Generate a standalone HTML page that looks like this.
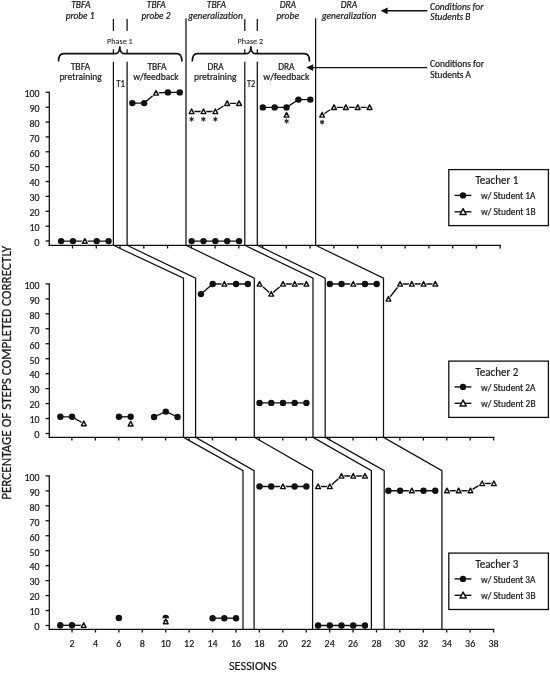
<!DOCTYPE html>
<html><head><meta charset="utf-8"><title>Multiple baseline graph</title>
<style>
html,body{margin:0;padding:0;background:#fff;}
body{width:550px;height:673px;overflow:hidden;}
svg{display:block;font-family:Carlito, 'Liberation Sans', sans-serif;}
text{stroke:#1a1a1a;}
</style></head>
<body>
<svg width="550" height="673" viewBox="0 0 550 673" stroke-width="0.22">
<rect x="0" y="0" width="550" height="673" fill="#fff"/>
<text x="80.8" y="7.9" font-size="9.6" text-anchor="middle" font-style="italic" textLength="19.3" lengthAdjust="spacingAndGlyphs" fill="#1a1a1a">TBFA</text>
<text x="80.0" y="18.9" font-size="9.6" text-anchor="middle" font-style="italic" textLength="28.7" lengthAdjust="spacingAndGlyphs" fill="#1a1a1a">probe 1</text>
<text x="156.3" y="7.9" font-size="9.6" text-anchor="middle" font-style="italic" textLength="18.9" lengthAdjust="spacingAndGlyphs" fill="#1a1a1a">TBFA</text>
<text x="155.9" y="18.9" font-size="9.6" text-anchor="middle" font-style="italic" textLength="29.0" lengthAdjust="spacingAndGlyphs" fill="#1a1a1a">probe 2</text>
<text x="216.4" y="8.0" font-size="9.6" text-anchor="middle" font-style="italic" textLength="19.3" lengthAdjust="spacingAndGlyphs" fill="#1a1a1a">TBFA</text>
<text x="215.5" y="18.8" font-size="9.6" text-anchor="middle" font-style="italic" textLength="54.5" lengthAdjust="spacingAndGlyphs" fill="#1a1a1a">generalization</text>
<text x="287.9" y="8.4" font-size="9.6" text-anchor="middle" font-style="italic" textLength="16.4" lengthAdjust="spacingAndGlyphs" fill="#1a1a1a">DRA</text>
<text x="287.7" y="18.8" font-size="9.6" text-anchor="middle" font-style="italic" textLength="22.6" lengthAdjust="spacingAndGlyphs" fill="#1a1a1a">probe</text>
<text x="349.0" y="8.4" font-size="9.6" text-anchor="middle" font-style="italic" textLength="16.4" lengthAdjust="spacingAndGlyphs" fill="#1a1a1a">DRA</text>
<text x="349.0" y="18.8" font-size="9.6" text-anchor="middle" font-style="italic" textLength="54.5" lengthAdjust="spacingAndGlyphs" fill="#1a1a1a">generalization</text>
<text x="430" y="10.1" font-size="9.6" text-anchor="start" font-style="italic" textLength="53.5" lengthAdjust="spacingAndGlyphs" fill="#1a1a1a">Conditions for</text>
<text x="430.2" y="20.3" font-size="9.6" text-anchor="start" font-style="italic" textLength="40.2" lengthAdjust="spacingAndGlyphs" fill="#1a1a1a">Students B</text>
<text x="430" y="66.5" font-size="9.6" text-anchor="start" textLength="54" lengthAdjust="spacingAndGlyphs" fill="#1a1a1a">Conditions for</text>
<text x="430.2" y="77.6" font-size="9.6" text-anchor="start" textLength="40.8" lengthAdjust="spacingAndGlyphs" fill="#1a1a1a">Students A</text>
<text x="119.9" y="43.6" font-size="9.0" text-anchor="middle" textLength="25.6" lengthAdjust="spacingAndGlyphs" stroke-width="0.05" fill="#1a1a1a">Phase 1</text>
<text x="250.3" y="43.6" font-size="9.0" text-anchor="middle" textLength="25.6" lengthAdjust="spacingAndGlyphs" stroke-width="0.05" fill="#1a1a1a">Phase 2</text>
<text x="80.4" y="70.2" font-size="10" text-anchor="middle" textLength="19.5" lengthAdjust="spacingAndGlyphs" fill="#1a1a1a">TBFA</text>
<text x="80.6" y="80.4" font-size="10" text-anchor="middle" textLength="42.4" lengthAdjust="spacingAndGlyphs" fill="#1a1a1a">pretraining</text>
<text x="120.6" y="86.5" font-size="9.9" text-anchor="middle" textLength="8.6" lengthAdjust="spacingAndGlyphs" fill="#1a1a1a">T1</text>
<text x="157.0" y="70.2" font-size="10" text-anchor="middle" textLength="19.2" lengthAdjust="spacingAndGlyphs" fill="#1a1a1a">TBFA</text>
<text x="155.9" y="80.4" font-size="10" text-anchor="middle" textLength="45.2" lengthAdjust="spacingAndGlyphs" fill="#1a1a1a">w/feedback</text>
<text x="215.6" y="70.2" font-size="10" text-anchor="middle" textLength="16.3" lengthAdjust="spacingAndGlyphs" fill="#1a1a1a">DRA</text>
<text x="215.2" y="80.4" font-size="10" text-anchor="middle" textLength="42.5" lengthAdjust="spacingAndGlyphs" fill="#1a1a1a">pretraining</text>
<text x="251.1" y="86.5" font-size="9.9" text-anchor="middle" textLength="8.4" lengthAdjust="spacingAndGlyphs" fill="#1a1a1a">T2</text>
<text x="286.3" y="70.2" font-size="10" text-anchor="middle" textLength="16.3" lengthAdjust="spacingAndGlyphs" fill="#1a1a1a">DRA</text>
<text x="286.3" y="80.4" font-size="10" text-anchor="middle" textLength="46.0" lengthAdjust="spacingAndGlyphs" fill="#1a1a1a">w/feedback</text>
<line x1="387.00" y1="10.80" x2="427.30" y2="10.80" stroke="#111" stroke-width="1.4"/>
<path d="M380.6,10.8 L387.6,7.4 L387.6,14.2 Z" fill="#111"/>
<line x1="313.00" y1="67.60" x2="427.30" y2="67.60" stroke="#111" stroke-width="1.4"/>
<path d="M306.2,67.6 L313.2,64.2 L313.2,71.0 Z" fill="#111"/>
<path d="M58.5,61.5 C58.5,56.1 60.0,53.6 63.5,53.6 L115.3,53.6 C117.8,53.6 119.8,51.6 119.8,46.2 C119.8,51.6 121.8,53.6 124.3,53.6 L176.9,53.6 C180.4,53.6 181.9,56.1 181.9,61.5" fill="none" stroke="#111" stroke-width="1.6"/>
<path d="M192.3,61.5 C192.3,56.1 193.8,53.6 197.3,53.6 L246.4,53.6 C248.9,53.6 250.9,51.6 250.9,46.2 C250.9,51.6 252.9,53.6 255.4,53.6 L304.5,53.6 C308.0,53.6 309.5,56.1 309.5,61.5" fill="none" stroke="#111" stroke-width="1.6"/>
<line x1="113.40" y1="19.00" x2="113.40" y2="31.00" stroke="#111" stroke-width="1.25"/>
<line x1="113.40" y1="49.30" x2="113.40" y2="53.60" stroke="#111" stroke-width="1.25"/>
<line x1="113.40" y1="61.80" x2="113.40" y2="245.30" stroke="#111" stroke-width="1.25"/>
<polyline points="113.4,245.3 183.5,278.2 183.5,437.3 243.0,470.7 243.0,629.3" fill="none" stroke="#111" stroke-width="1.25" stroke-linejoin="miter"/>
<line x1="127.10" y1="19.00" x2="127.10" y2="31.00" stroke="#111" stroke-width="1.25"/>
<line x1="127.10" y1="49.30" x2="127.10" y2="53.60" stroke="#111" stroke-width="1.25"/>
<line x1="127.10" y1="61.80" x2="127.10" y2="245.30" stroke="#111" stroke-width="1.25"/>
<polyline points="127.1,245.3 195.6,278.2 195.6,437.3 254.1,470.7 254.1,629.3" fill="none" stroke="#111" stroke-width="1.25" stroke-linejoin="miter"/>
<line x1="186.00" y1="18.30" x2="186.00" y2="245.30" stroke="#111" stroke-width="1.25"/>
<polyline points="186.0,245.3 254.3,278.2 254.3,437.3 312.6,470.7 312.6,629.3" fill="none" stroke="#111" stroke-width="1.25" stroke-linejoin="miter"/>
<line x1="244.80" y1="19.00" x2="244.80" y2="31.00" stroke="#111" stroke-width="1.25"/>
<line x1="244.80" y1="49.30" x2="244.80" y2="53.60" stroke="#111" stroke-width="1.25"/>
<line x1="244.80" y1="61.80" x2="244.80" y2="245.30" stroke="#111" stroke-width="1.25"/>
<polyline points="244.8,245.3 313.0,278.2 313.0,437.3 371.4,470.7 371.4,629.3" fill="none" stroke="#111" stroke-width="1.25" stroke-linejoin="miter"/>
<line x1="257.30" y1="19.00" x2="257.30" y2="31.00" stroke="#111" stroke-width="1.25"/>
<line x1="257.30" y1="49.30" x2="257.30" y2="53.60" stroke="#111" stroke-width="1.25"/>
<line x1="257.30" y1="61.80" x2="257.30" y2="245.30" stroke="#111" stroke-width="1.25"/>
<polyline points="257.3,245.3 325.2,278.2 325.2,437.3 384.2,470.7 384.2,629.3" fill="none" stroke="#111" stroke-width="1.25" stroke-linejoin="miter"/>
<line x1="315.60" y1="18.30" x2="315.60" y2="245.30" stroke="#111" stroke-width="1.25"/>
<polyline points="315.6,245.3 383.5,278.2 383.5,437.3 441.9,470.7 441.9,629.3" fill="none" stroke="#111" stroke-width="1.25" stroke-linejoin="miter"/>
<line x1="49.30" y1="91.70" x2="49.30" y2="246.00" stroke="#111" stroke-width="1.3"/>
<line x1="45.60" y1="241.00" x2="49.30" y2="241.00" stroke="#111" stroke-width="1.3"/>
<text x="39.6" y="245.80" font-size="10.4" text-anchor="end" fill="#1a1a1a">0</text>
<line x1="45.60" y1="226.13" x2="49.30" y2="226.13" stroke="#111" stroke-width="1.3"/>
<text x="39.6" y="230.93" font-size="10.4" text-anchor="end" textLength="10.0" lengthAdjust="spacingAndGlyphs" fill="#1a1a1a">10</text>
<line x1="45.60" y1="211.26" x2="49.30" y2="211.26" stroke="#111" stroke-width="1.3"/>
<text x="39.6" y="216.06" font-size="10.4" text-anchor="end" textLength="10.0" lengthAdjust="spacingAndGlyphs" fill="#1a1a1a">20</text>
<line x1="45.60" y1="196.39" x2="49.30" y2="196.39" stroke="#111" stroke-width="1.3"/>
<text x="39.6" y="201.19" font-size="10.4" text-anchor="end" textLength="10.0" lengthAdjust="spacingAndGlyphs" fill="#1a1a1a">30</text>
<line x1="45.60" y1="181.52" x2="49.30" y2="181.52" stroke="#111" stroke-width="1.3"/>
<text x="39.6" y="186.32" font-size="10.4" text-anchor="end" textLength="10.0" lengthAdjust="spacingAndGlyphs" fill="#1a1a1a">40</text>
<line x1="45.60" y1="166.65" x2="49.30" y2="166.65" stroke="#111" stroke-width="1.3"/>
<text x="39.6" y="171.45" font-size="10.4" text-anchor="end" textLength="10.0" lengthAdjust="spacingAndGlyphs" fill="#1a1a1a">50</text>
<line x1="45.60" y1="151.78" x2="49.30" y2="151.78" stroke="#111" stroke-width="1.3"/>
<text x="39.6" y="156.58" font-size="10.4" text-anchor="end" textLength="10.0" lengthAdjust="spacingAndGlyphs" fill="#1a1a1a">60</text>
<line x1="45.60" y1="136.91" x2="49.30" y2="136.91" stroke="#111" stroke-width="1.3"/>
<text x="39.6" y="141.71" font-size="10.4" text-anchor="end" textLength="10.0" lengthAdjust="spacingAndGlyphs" fill="#1a1a1a">70</text>
<line x1="45.60" y1="122.04" x2="49.30" y2="122.04" stroke="#111" stroke-width="1.3"/>
<text x="39.6" y="126.84" font-size="10.4" text-anchor="end" textLength="10.0" lengthAdjust="spacingAndGlyphs" fill="#1a1a1a">80</text>
<line x1="45.60" y1="107.17" x2="49.30" y2="107.17" stroke="#111" stroke-width="1.3"/>
<text x="39.6" y="111.97" font-size="10.4" text-anchor="end" textLength="10.0" lengthAdjust="spacingAndGlyphs" fill="#1a1a1a">90</text>
<line x1="45.60" y1="92.30" x2="49.30" y2="92.30" stroke="#111" stroke-width="1.3"/>
<text x="39.6" y="97.10" font-size="10.4" text-anchor="end" textLength="15.0" lengthAdjust="spacingAndGlyphs" fill="#1a1a1a">100</text>
<line x1="49.30" y1="283.30" x2="49.30" y2="438.00" stroke="#111" stroke-width="1.3"/>
<line x1="45.60" y1="433.50" x2="49.30" y2="433.50" stroke="#111" stroke-width="1.3"/>
<text x="39.6" y="438.30" font-size="10.4" text-anchor="end" fill="#1a1a1a">0</text>
<line x1="45.60" y1="418.54" x2="49.30" y2="418.54" stroke="#111" stroke-width="1.3"/>
<text x="39.6" y="423.34" font-size="10.4" text-anchor="end" textLength="10.0" lengthAdjust="spacingAndGlyphs" fill="#1a1a1a">10</text>
<line x1="45.60" y1="403.58" x2="49.30" y2="403.58" stroke="#111" stroke-width="1.3"/>
<text x="39.6" y="408.38" font-size="10.4" text-anchor="end" textLength="10.0" lengthAdjust="spacingAndGlyphs" fill="#1a1a1a">20</text>
<line x1="45.60" y1="388.62" x2="49.30" y2="388.62" stroke="#111" stroke-width="1.3"/>
<text x="39.6" y="393.42" font-size="10.4" text-anchor="end" textLength="10.0" lengthAdjust="spacingAndGlyphs" fill="#1a1a1a">30</text>
<line x1="45.60" y1="373.66" x2="49.30" y2="373.66" stroke="#111" stroke-width="1.3"/>
<text x="39.6" y="378.46" font-size="10.4" text-anchor="end" textLength="10.0" lengthAdjust="spacingAndGlyphs" fill="#1a1a1a">40</text>
<line x1="45.60" y1="358.70" x2="49.30" y2="358.70" stroke="#111" stroke-width="1.3"/>
<text x="39.6" y="363.50" font-size="10.4" text-anchor="end" textLength="10.0" lengthAdjust="spacingAndGlyphs" fill="#1a1a1a">50</text>
<line x1="45.60" y1="343.74" x2="49.30" y2="343.74" stroke="#111" stroke-width="1.3"/>
<text x="39.6" y="348.54" font-size="10.4" text-anchor="end" textLength="10.0" lengthAdjust="spacingAndGlyphs" fill="#1a1a1a">60</text>
<line x1="45.60" y1="328.78" x2="49.30" y2="328.78" stroke="#111" stroke-width="1.3"/>
<text x="39.6" y="333.58" font-size="10.4" text-anchor="end" textLength="10.0" lengthAdjust="spacingAndGlyphs" fill="#1a1a1a">70</text>
<line x1="45.60" y1="313.82" x2="49.30" y2="313.82" stroke="#111" stroke-width="1.3"/>
<text x="39.6" y="318.62" font-size="10.4" text-anchor="end" textLength="10.0" lengthAdjust="spacingAndGlyphs" fill="#1a1a1a">80</text>
<line x1="45.60" y1="298.86" x2="49.30" y2="298.86" stroke="#111" stroke-width="1.3"/>
<text x="39.6" y="303.66" font-size="10.4" text-anchor="end" textLength="10.0" lengthAdjust="spacingAndGlyphs" fill="#1a1a1a">90</text>
<line x1="45.60" y1="283.90" x2="49.30" y2="283.90" stroke="#111" stroke-width="1.3"/>
<text x="39.6" y="288.70" font-size="10.4" text-anchor="end" textLength="15.0" lengthAdjust="spacingAndGlyphs" fill="#1a1a1a">100</text>
<line x1="49.30" y1="475.30" x2="49.30" y2="630.00" stroke="#111" stroke-width="1.3"/>
<line x1="45.60" y1="625.50" x2="49.30" y2="625.50" stroke="#111" stroke-width="1.3"/>
<text x="39.6" y="630.30" font-size="10.4" text-anchor="end" fill="#1a1a1a">0</text>
<line x1="45.60" y1="610.54" x2="49.30" y2="610.54" stroke="#111" stroke-width="1.3"/>
<text x="39.6" y="615.34" font-size="10.4" text-anchor="end" textLength="10.0" lengthAdjust="spacingAndGlyphs" fill="#1a1a1a">10</text>
<line x1="45.60" y1="595.58" x2="49.30" y2="595.58" stroke="#111" stroke-width="1.3"/>
<text x="39.6" y="600.38" font-size="10.4" text-anchor="end" textLength="10.0" lengthAdjust="spacingAndGlyphs" fill="#1a1a1a">20</text>
<line x1="45.60" y1="580.62" x2="49.30" y2="580.62" stroke="#111" stroke-width="1.3"/>
<text x="39.6" y="585.42" font-size="10.4" text-anchor="end" textLength="10.0" lengthAdjust="spacingAndGlyphs" fill="#1a1a1a">30</text>
<line x1="45.60" y1="565.66" x2="49.30" y2="565.66" stroke="#111" stroke-width="1.3"/>
<text x="39.6" y="570.46" font-size="10.4" text-anchor="end" textLength="10.0" lengthAdjust="spacingAndGlyphs" fill="#1a1a1a">40</text>
<line x1="45.60" y1="550.70" x2="49.30" y2="550.70" stroke="#111" stroke-width="1.3"/>
<text x="39.6" y="555.50" font-size="10.4" text-anchor="end" textLength="10.0" lengthAdjust="spacingAndGlyphs" fill="#1a1a1a">50</text>
<line x1="45.60" y1="535.74" x2="49.30" y2="535.74" stroke="#111" stroke-width="1.3"/>
<text x="39.6" y="540.54" font-size="10.4" text-anchor="end" textLength="10.0" lengthAdjust="spacingAndGlyphs" fill="#1a1a1a">60</text>
<line x1="45.60" y1="520.78" x2="49.30" y2="520.78" stroke="#111" stroke-width="1.3"/>
<text x="39.6" y="525.58" font-size="10.4" text-anchor="end" textLength="10.0" lengthAdjust="spacingAndGlyphs" fill="#1a1a1a">70</text>
<line x1="45.60" y1="505.82" x2="49.30" y2="505.82" stroke="#111" stroke-width="1.3"/>
<text x="39.6" y="510.62" font-size="10.4" text-anchor="end" textLength="10.0" lengthAdjust="spacingAndGlyphs" fill="#1a1a1a">80</text>
<line x1="45.60" y1="490.86" x2="49.30" y2="490.86" stroke="#111" stroke-width="1.3"/>
<text x="39.6" y="495.66" font-size="10.4" text-anchor="end" textLength="10.0" lengthAdjust="spacingAndGlyphs" fill="#1a1a1a">90</text>
<line x1="45.60" y1="475.90" x2="49.30" y2="475.90" stroke="#111" stroke-width="1.3"/>
<text x="39.6" y="480.70" font-size="10.4" text-anchor="end" textLength="15.0" lengthAdjust="spacingAndGlyphs" fill="#1a1a1a">100</text>
<line x1="48.65" y1="245.30" x2="500.80" y2="245.30" stroke="#111" stroke-width="1.3"/>
<line x1="72.52" y1="245.30" x2="72.52" y2="248.50" stroke="#111" stroke-width="1.3"/>
<line x1="96.28" y1="245.30" x2="96.28" y2="248.50" stroke="#111" stroke-width="1.3"/>
<line x1="120.04" y1="245.30" x2="120.04" y2="248.50" stroke="#111" stroke-width="1.3"/>
<line x1="143.80" y1="245.30" x2="143.80" y2="248.50" stroke="#111" stroke-width="1.3"/>
<line x1="167.56" y1="245.30" x2="167.56" y2="248.50" stroke="#111" stroke-width="1.3"/>
<line x1="191.32" y1="245.30" x2="191.32" y2="248.50" stroke="#111" stroke-width="1.3"/>
<line x1="215.08" y1="245.30" x2="215.08" y2="248.50" stroke="#111" stroke-width="1.3"/>
<line x1="238.84" y1="245.30" x2="238.84" y2="248.50" stroke="#111" stroke-width="1.3"/>
<line x1="262.60" y1="245.30" x2="262.60" y2="248.50" stroke="#111" stroke-width="1.3"/>
<line x1="286.36" y1="245.30" x2="286.36" y2="248.50" stroke="#111" stroke-width="1.3"/>
<line x1="310.12" y1="245.30" x2="310.12" y2="248.50" stroke="#111" stroke-width="1.3"/>
<line x1="333.88" y1="245.30" x2="333.88" y2="248.50" stroke="#111" stroke-width="1.3"/>
<line x1="357.64" y1="245.30" x2="357.64" y2="248.50" stroke="#111" stroke-width="1.3"/>
<line x1="381.40" y1="245.30" x2="381.40" y2="248.50" stroke="#111" stroke-width="1.3"/>
<line x1="405.16" y1="245.30" x2="405.16" y2="248.50" stroke="#111" stroke-width="1.3"/>
<line x1="428.92" y1="245.30" x2="428.92" y2="248.50" stroke="#111" stroke-width="1.3"/>
<line x1="452.68" y1="245.30" x2="452.68" y2="248.50" stroke="#111" stroke-width="1.3"/>
<line x1="476.44" y1="245.30" x2="476.44" y2="248.50" stroke="#111" stroke-width="1.3"/>
<line x1="500.20" y1="245.30" x2="500.20" y2="248.50" stroke="#111" stroke-width="1.3"/>
<line x1="48.65" y1="437.30" x2="494.25" y2="437.30" stroke="#111" stroke-width="1.3"/>
<line x1="71.87" y1="437.30" x2="71.87" y2="440.50" stroke="#111" stroke-width="1.3"/>
<line x1="95.30" y1="437.30" x2="95.30" y2="440.50" stroke="#111" stroke-width="1.3"/>
<line x1="118.74" y1="437.30" x2="118.74" y2="440.50" stroke="#111" stroke-width="1.3"/>
<line x1="142.17" y1="437.30" x2="142.17" y2="440.50" stroke="#111" stroke-width="1.3"/>
<line x1="165.60" y1="437.30" x2="165.60" y2="440.50" stroke="#111" stroke-width="1.3"/>
<line x1="189.03" y1="437.30" x2="189.03" y2="440.50" stroke="#111" stroke-width="1.3"/>
<line x1="212.46" y1="437.30" x2="212.46" y2="440.50" stroke="#111" stroke-width="1.3"/>
<line x1="235.90" y1="437.30" x2="235.90" y2="440.50" stroke="#111" stroke-width="1.3"/>
<line x1="259.33" y1="437.30" x2="259.33" y2="440.50" stroke="#111" stroke-width="1.3"/>
<line x1="282.76" y1="437.30" x2="282.76" y2="440.50" stroke="#111" stroke-width="1.3"/>
<line x1="306.19" y1="437.30" x2="306.19" y2="440.50" stroke="#111" stroke-width="1.3"/>
<line x1="329.62" y1="437.30" x2="329.62" y2="440.50" stroke="#111" stroke-width="1.3"/>
<line x1="353.06" y1="437.30" x2="353.06" y2="440.50" stroke="#111" stroke-width="1.3"/>
<line x1="376.49" y1="437.30" x2="376.49" y2="440.50" stroke="#111" stroke-width="1.3"/>
<line x1="399.92" y1="437.30" x2="399.92" y2="440.50" stroke="#111" stroke-width="1.3"/>
<line x1="423.35" y1="437.30" x2="423.35" y2="440.50" stroke="#111" stroke-width="1.3"/>
<line x1="446.78" y1="437.30" x2="446.78" y2="440.50" stroke="#111" stroke-width="1.3"/>
<line x1="470.22" y1="437.30" x2="470.22" y2="440.50" stroke="#111" stroke-width="1.3"/>
<line x1="493.65" y1="437.30" x2="493.65" y2="440.50" stroke="#111" stroke-width="1.3"/>
<line x1="48.65" y1="629.30" x2="494.16" y2="629.30" stroke="#111" stroke-width="1.3"/>
<line x1="72.04" y1="629.30" x2="72.04" y2="632.50" stroke="#111" stroke-width="1.3"/>
<text x="72.04" y="646.6" font-size="10" text-anchor="middle" textLength="5.1" lengthAdjust="spacingAndGlyphs" fill="#1a1a1a">2</text>
<line x1="95.46" y1="629.30" x2="95.46" y2="632.50" stroke="#111" stroke-width="1.3"/>
<text x="95.46" y="646.6" font-size="10" text-anchor="middle" textLength="5.1" lengthAdjust="spacingAndGlyphs" fill="#1a1a1a">4</text>
<line x1="118.87" y1="629.30" x2="118.87" y2="632.50" stroke="#111" stroke-width="1.3"/>
<text x="118.87" y="646.6" font-size="10" text-anchor="middle" textLength="5.1" lengthAdjust="spacingAndGlyphs" fill="#1a1a1a">6</text>
<line x1="142.29" y1="629.30" x2="142.29" y2="632.50" stroke="#111" stroke-width="1.3"/>
<text x="142.29" y="646.6" font-size="10" text-anchor="middle" textLength="5.1" lengthAdjust="spacingAndGlyphs" fill="#1a1a1a">8</text>
<line x1="165.71" y1="629.30" x2="165.71" y2="632.50" stroke="#111" stroke-width="1.3"/>
<text x="165.71" y="646.6" font-size="10" text-anchor="middle" textLength="10.1" lengthAdjust="spacingAndGlyphs" fill="#1a1a1a">10</text>
<line x1="189.13" y1="629.30" x2="189.13" y2="632.50" stroke="#111" stroke-width="1.3"/>
<text x="189.13" y="646.6" font-size="10" text-anchor="middle" textLength="10.1" lengthAdjust="spacingAndGlyphs" fill="#1a1a1a">12</text>
<line x1="212.55" y1="629.30" x2="212.55" y2="632.50" stroke="#111" stroke-width="1.3"/>
<text x="212.55" y="646.6" font-size="10" text-anchor="middle" textLength="10.1" lengthAdjust="spacingAndGlyphs" fill="#1a1a1a">14</text>
<line x1="235.96" y1="629.30" x2="235.96" y2="632.50" stroke="#111" stroke-width="1.3"/>
<text x="235.96" y="646.6" font-size="10" text-anchor="middle" textLength="10.1" lengthAdjust="spacingAndGlyphs" fill="#1a1a1a">16</text>
<line x1="259.38" y1="629.30" x2="259.38" y2="632.50" stroke="#111" stroke-width="1.3"/>
<text x="259.38" y="646.6" font-size="10" text-anchor="middle" textLength="10.1" lengthAdjust="spacingAndGlyphs" fill="#1a1a1a">18</text>
<line x1="282.80" y1="629.30" x2="282.80" y2="632.50" stroke="#111" stroke-width="1.3"/>
<text x="282.80" y="646.6" font-size="10" text-anchor="middle" textLength="10.1" lengthAdjust="spacingAndGlyphs" fill="#1a1a1a">20</text>
<line x1="306.22" y1="629.30" x2="306.22" y2="632.50" stroke="#111" stroke-width="1.3"/>
<text x="306.22" y="646.6" font-size="10" text-anchor="middle" textLength="10.1" lengthAdjust="spacingAndGlyphs" fill="#1a1a1a">22</text>
<line x1="329.64" y1="629.30" x2="329.64" y2="632.50" stroke="#111" stroke-width="1.3"/>
<text x="329.64" y="646.6" font-size="10" text-anchor="middle" textLength="10.1" lengthAdjust="spacingAndGlyphs" fill="#1a1a1a">24</text>
<line x1="353.05" y1="629.30" x2="353.05" y2="632.50" stroke="#111" stroke-width="1.3"/>
<text x="353.05" y="646.6" font-size="10" text-anchor="middle" textLength="10.1" lengthAdjust="spacingAndGlyphs" fill="#1a1a1a">26</text>
<line x1="376.47" y1="629.30" x2="376.47" y2="632.50" stroke="#111" stroke-width="1.3"/>
<text x="376.47" y="646.6" font-size="10" text-anchor="middle" textLength="10.1" lengthAdjust="spacingAndGlyphs" fill="#1a1a1a">28</text>
<line x1="399.89" y1="629.30" x2="399.89" y2="632.50" stroke="#111" stroke-width="1.3"/>
<text x="399.89" y="646.6" font-size="10" text-anchor="middle" textLength="10.1" lengthAdjust="spacingAndGlyphs" fill="#1a1a1a">30</text>
<line x1="423.31" y1="629.30" x2="423.31" y2="632.50" stroke="#111" stroke-width="1.3"/>
<text x="423.31" y="646.6" font-size="10" text-anchor="middle" textLength="10.1" lengthAdjust="spacingAndGlyphs" fill="#1a1a1a">32</text>
<line x1="446.73" y1="629.30" x2="446.73" y2="632.50" stroke="#111" stroke-width="1.3"/>
<text x="446.73" y="646.6" font-size="10" text-anchor="middle" textLength="10.1" lengthAdjust="spacingAndGlyphs" fill="#1a1a1a">34</text>
<line x1="470.14" y1="629.30" x2="470.14" y2="632.50" stroke="#111" stroke-width="1.3"/>
<text x="470.14" y="646.6" font-size="10" text-anchor="middle" textLength="10.1" lengthAdjust="spacingAndGlyphs" fill="#1a1a1a">36</text>
<line x1="493.56" y1="629.30" x2="493.56" y2="632.50" stroke="#111" stroke-width="1.3"/>
<text x="493.56" y="646.6" font-size="10" text-anchor="middle" textLength="10.1" lengthAdjust="spacingAndGlyphs" fill="#1a1a1a">38</text>
<text x="0" y="0" font-size="13.6" text-anchor="middle" fill="#1a1a1a" transform="translate(11.2,372.8) rotate(-90)" textLength="254" lengthAdjust="spacingAndGlyphs">PERCENTAGE OF STEPS COMPLETED CORRECTLY</text>
<text x="252.8" y="669.6" font-size="12.2" text-anchor="middle" textLength="47.7" lengthAdjust="spacingAndGlyphs" fill="#1a1a1a">SESSIONS</text>
<polyline points="61.11,241.10 108.56,241.10" fill="none" stroke="#111" stroke-width="1.35"/>
<circle cx="61.11" cy="241.10" r="3.2" fill="#111"/>
<circle cx="72.97" cy="241.10" r="3.2" fill="#111"/>
<circle cx="96.70" cy="241.10" r="3.2" fill="#111"/>
<circle cx="108.56" cy="241.10" r="3.2" fill="#111"/>
<path d="M84.84,238.60 L87.24,243.20 L82.44,243.20 Z" fill="#fff" stroke="#fff" stroke-width="2.9" stroke-linejoin="round"/>
<path d="M84.84,238.60 L87.24,243.20 L82.44,243.20 Z" fill="#fff" stroke="#111" stroke-width="1.45" stroke-linejoin="round"/>
<polyline points="132.30,103.10 144.16,103.10 156.03,93.00 167.89,92.40 179.76,92.40" fill="none" stroke="#111" stroke-width="1.35"/>
<circle cx="132.30" cy="103.10" r="3.2" fill="#111"/>
<circle cx="144.16" cy="103.10" r="3.2" fill="#111"/>
<circle cx="167.89" cy="92.40" r="3.2" fill="#111"/>
<circle cx="179.76" cy="92.40" r="3.2" fill="#111"/>
<path d="M156.03,90.50 L158.43,95.10 L153.62,95.10 Z" fill="#fff" stroke="#fff" stroke-width="2.9" stroke-linejoin="round"/>
<path d="M156.03,90.50 L158.43,95.10 L153.62,95.10 Z" fill="#fff" stroke="#111" stroke-width="1.45" stroke-linejoin="round"/>
<polyline points="191.62,241.10 203.49,241.10 215.35,241.10 227.22,241.10 239.08,241.10" fill="none" stroke="#111" stroke-width="1.35"/>
<circle cx="191.62" cy="241.10" r="3.2" fill="#111"/>
<circle cx="203.49" cy="241.10" r="3.2" fill="#111"/>
<circle cx="215.35" cy="241.10" r="3.2" fill="#111"/>
<circle cx="227.22" cy="241.10" r="3.2" fill="#111"/>
<circle cx="239.08" cy="241.10" r="3.2" fill="#111"/>
<polyline points="191.62,111.50 203.49,111.50 215.35,111.50 227.22,103.30 239.08,103.30" fill="none" stroke="#111" stroke-width="1.35"/>
<path d="M191.62,109.00 L194.02,113.60 L189.22,113.60 Z" fill="#fff" stroke="#fff" stroke-width="2.9" stroke-linejoin="round"/>
<path d="M191.62,109.00 L194.02,113.60 L189.22,113.60 Z" fill="#fff" stroke="#111" stroke-width="1.45" stroke-linejoin="round"/>
<path d="M203.49,109.00 L205.89,113.60 L201.09,113.60 Z" fill="#fff" stroke="#fff" stroke-width="2.9" stroke-linejoin="round"/>
<path d="M203.49,109.00 L205.89,113.60 L201.09,113.60 Z" fill="#fff" stroke="#111" stroke-width="1.45" stroke-linejoin="round"/>
<path d="M215.35,109.00 L217.75,113.60 L212.95,113.60 Z" fill="#fff" stroke="#fff" stroke-width="2.9" stroke-linejoin="round"/>
<path d="M215.35,109.00 L217.75,113.60 L212.95,113.60 Z" fill="#fff" stroke="#111" stroke-width="1.45" stroke-linejoin="round"/>
<path d="M227.22,100.80 L229.62,105.40 L224.81,105.40 Z" fill="#fff" stroke="#fff" stroke-width="2.9" stroke-linejoin="round"/>
<path d="M227.22,100.80 L229.62,105.40 L224.81,105.40 Z" fill="#fff" stroke="#111" stroke-width="1.45" stroke-linejoin="round"/>
<path d="M239.08,100.80 L241.48,105.40 L236.68,105.40 Z" fill="#fff" stroke="#fff" stroke-width="2.9" stroke-linejoin="round"/>
<path d="M239.08,100.80 L241.48,105.40 L236.68,105.40 Z" fill="#fff" stroke="#111" stroke-width="1.45" stroke-linejoin="round"/>
<text x="191.62" y="127.00" font-size="13.5" text-anchor="middle" fill="#111" stroke="#111" stroke-width="0.35">*</text>
<text x="203.49" y="127.00" font-size="13.5" text-anchor="middle" fill="#111" stroke="#111" stroke-width="0.35">*</text>
<text x="215.35" y="127.00" font-size="13.5" text-anchor="middle" fill="#111" stroke="#111" stroke-width="0.35">*</text>
<polyline points="262.81,107.40 274.68,107.40 286.54,107.40 298.40,99.60 310.27,99.60" fill="none" stroke="#111" stroke-width="1.35"/>
<circle cx="262.81" cy="107.40" r="3.2" fill="#111"/>
<circle cx="274.68" cy="107.40" r="3.2" fill="#111"/>
<circle cx="286.54" cy="107.40" r="3.2" fill="#111"/>
<circle cx="298.40" cy="99.60" r="3.2" fill="#111"/>
<circle cx="310.27" cy="99.60" r="3.2" fill="#111"/>
<path d="M286.54,112.50 L288.94,117.10 L284.14,117.10 Z" fill="#fff" stroke="#fff" stroke-width="2.9" stroke-linejoin="round"/>
<path d="M286.54,112.50 L288.94,117.10 L284.14,117.10 Z" fill="#fff" stroke="#111" stroke-width="1.45" stroke-linejoin="round"/>
<text x="286.54" y="129.40" font-size="13.5" text-anchor="middle" fill="#111" stroke="#111" stroke-width="0.35">*</text>
<polyline points="322.13,115.00 334.00,107.30 345.87,107.30 357.73,107.30 369.60,107.30" fill="none" stroke="#111" stroke-width="1.35"/>
<path d="M322.13,112.50 L324.53,117.10 L319.74,117.10 Z" fill="#fff" stroke="#fff" stroke-width="2.9" stroke-linejoin="round"/>
<path d="M322.13,112.50 L324.53,117.10 L319.74,117.10 Z" fill="#fff" stroke="#111" stroke-width="1.45" stroke-linejoin="round"/>
<path d="M334.00,104.80 L336.40,109.40 L331.60,109.40 Z" fill="#fff" stroke="#fff" stroke-width="2.9" stroke-linejoin="round"/>
<path d="M334.00,104.80 L336.40,109.40 L331.60,109.40 Z" fill="#fff" stroke="#111" stroke-width="1.45" stroke-linejoin="round"/>
<path d="M345.87,104.80 L348.26,109.40 L343.47,109.40 Z" fill="#fff" stroke="#fff" stroke-width="2.9" stroke-linejoin="round"/>
<path d="M345.87,104.80 L348.26,109.40 L343.47,109.40 Z" fill="#fff" stroke="#111" stroke-width="1.45" stroke-linejoin="round"/>
<path d="M357.73,104.80 L360.13,109.40 L355.33,109.40 Z" fill="#fff" stroke="#fff" stroke-width="2.9" stroke-linejoin="round"/>
<path d="M357.73,104.80 L360.13,109.40 L355.33,109.40 Z" fill="#fff" stroke="#111" stroke-width="1.45" stroke-linejoin="round"/>
<path d="M369.60,104.80 L372.00,109.40 L367.20,109.40 Z" fill="#fff" stroke="#fff" stroke-width="2.9" stroke-linejoin="round"/>
<path d="M369.60,104.80 L372.00,109.40 L367.20,109.40 Z" fill="#fff" stroke="#111" stroke-width="1.45" stroke-linejoin="round"/>
<text x="322.13" y="130.00" font-size="13.5" text-anchor="middle" fill="#111" stroke="#111" stroke-width="0.35">*</text>
<polyline points="60.37,416.80 72.08,416.80 83.80,423.60" fill="none" stroke="#111" stroke-width="1.35"/>
<circle cx="60.37" cy="416.80" r="3.2" fill="#111"/>
<circle cx="72.08" cy="416.80" r="3.2" fill="#111"/>
<path d="M83.80,421.10 L86.20,425.70 L81.40,425.70 Z" fill="#fff" stroke="#fff" stroke-width="2.9" stroke-linejoin="round"/>
<path d="M83.80,421.10 L86.20,425.70 L81.40,425.70 Z" fill="#fff" stroke="#111" stroke-width="1.45" stroke-linejoin="round"/>
<polyline points="118.95,416.80 130.66,416.80" fill="none" stroke="#111" stroke-width="1.35"/>
<circle cx="118.95" cy="416.80" r="3.2" fill="#111"/>
<circle cx="130.66" cy="416.80" r="3.2" fill="#111"/>
<path d="M130.66,421.30 L133.06,425.90 L128.26,425.90 Z" fill="#fff" stroke="#111" stroke-width="1.45" stroke-linejoin="round"/>
<polyline points="154.09,417.00 165.81,411.60 177.53,417.00" fill="none" stroke="#111" stroke-width="1.35"/>
<circle cx="154.09" cy="417.00" r="3.2" fill="#111"/>
<circle cx="165.81" cy="411.60" r="3.2" fill="#111"/>
<circle cx="177.53" cy="417.00" r="3.2" fill="#111"/>
<polyline points="200.96,294.10 212.67,284.00 224.39,284.00 236.11,284.00 247.82,284.00" fill="none" stroke="#111" stroke-width="1.35"/>
<circle cx="200.96" cy="294.10" r="3.2" fill="#111"/>
<circle cx="212.67" cy="284.00" r="3.2" fill="#111"/>
<circle cx="236.11" cy="284.00" r="3.2" fill="#111"/>
<circle cx="247.82" cy="284.00" r="3.2" fill="#111"/>
<path d="M224.39,281.50 L226.79,286.10 L221.99,286.10 Z" fill="#fff" stroke="#fff" stroke-width="2.9" stroke-linejoin="round"/>
<path d="M224.39,281.50 L226.79,286.10 L221.99,286.10 Z" fill="#fff" stroke="#111" stroke-width="1.45" stroke-linejoin="round"/>
<polyline points="259.54,402.90 271.25,402.90 282.97,402.90 294.69,402.90 306.40,402.90" fill="none" stroke="#111" stroke-width="1.35"/>
<circle cx="259.54" cy="402.90" r="3.2" fill="#111"/>
<circle cx="271.25" cy="402.90" r="3.2" fill="#111"/>
<circle cx="282.97" cy="402.90" r="3.2" fill="#111"/>
<circle cx="294.69" cy="402.90" r="3.2" fill="#111"/>
<circle cx="306.40" cy="402.90" r="3.2" fill="#111"/>
<polyline points="259.54,284.00 271.25,294.00 282.97,284.00 294.69,284.00 306.40,284.00" fill="none" stroke="#111" stroke-width="1.35"/>
<path d="M259.54,281.50 L261.94,286.10 L257.14,286.10 Z" fill="#fff" stroke="#fff" stroke-width="2.9" stroke-linejoin="round"/>
<path d="M259.54,281.50 L261.94,286.10 L257.14,286.10 Z" fill="#fff" stroke="#111" stroke-width="1.45" stroke-linejoin="round"/>
<path d="M271.25,291.50 L273.65,296.10 L268.85,296.10 Z" fill="#fff" stroke="#fff" stroke-width="2.9" stroke-linejoin="round"/>
<path d="M271.25,291.50 L273.65,296.10 L268.85,296.10 Z" fill="#fff" stroke="#111" stroke-width="1.45" stroke-linejoin="round"/>
<path d="M282.97,281.50 L285.37,286.10 L280.57,286.10 Z" fill="#fff" stroke="#fff" stroke-width="2.9" stroke-linejoin="round"/>
<path d="M282.97,281.50 L285.37,286.10 L280.57,286.10 Z" fill="#fff" stroke="#111" stroke-width="1.45" stroke-linejoin="round"/>
<path d="M294.69,281.50 L297.09,286.10 L292.29,286.10 Z" fill="#fff" stroke="#fff" stroke-width="2.9" stroke-linejoin="round"/>
<path d="M294.69,281.50 L297.09,286.10 L292.29,286.10 Z" fill="#fff" stroke="#111" stroke-width="1.45" stroke-linejoin="round"/>
<path d="M306.40,281.50 L308.80,286.10 L304.00,286.10 Z" fill="#fff" stroke="#fff" stroke-width="2.9" stroke-linejoin="round"/>
<path d="M306.40,281.50 L308.80,286.10 L304.00,286.10 Z" fill="#fff" stroke="#111" stroke-width="1.45" stroke-linejoin="round"/>
<polyline points="329.83,284.00 341.55,284.00 353.27,284.00 364.98,284.00 376.70,284.00" fill="none" stroke="#111" stroke-width="1.35"/>
<circle cx="329.83" cy="284.00" r="3.2" fill="#111"/>
<circle cx="341.55" cy="284.00" r="3.2" fill="#111"/>
<circle cx="364.98" cy="284.00" r="3.2" fill="#111"/>
<circle cx="376.70" cy="284.00" r="3.2" fill="#111"/>
<path d="M353.27,281.50 L355.67,286.10 L350.87,286.10 Z" fill="#fff" stroke="#fff" stroke-width="2.9" stroke-linejoin="round"/>
<path d="M353.27,281.50 L355.67,286.10 L350.87,286.10 Z" fill="#fff" stroke="#111" stroke-width="1.45" stroke-linejoin="round"/>
<polyline points="388.41,299.00 400.13,284.00 411.85,284.00 423.56,284.00 435.28,284.00" fill="none" stroke="#111" stroke-width="1.35"/>
<path d="M388.41,296.50 L390.81,301.10 L386.01,301.10 Z" fill="#fff" stroke="#fff" stroke-width="2.9" stroke-linejoin="round"/>
<path d="M388.41,296.50 L390.81,301.10 L386.01,301.10 Z" fill="#fff" stroke="#111" stroke-width="1.45" stroke-linejoin="round"/>
<path d="M400.13,281.50 L402.53,286.10 L397.73,286.10 Z" fill="#fff" stroke="#fff" stroke-width="2.9" stroke-linejoin="round"/>
<path d="M400.13,281.50 L402.53,286.10 L397.73,286.10 Z" fill="#fff" stroke="#111" stroke-width="1.45" stroke-linejoin="round"/>
<path d="M411.85,281.50 L414.25,286.10 L409.45,286.10 Z" fill="#fff" stroke="#fff" stroke-width="2.9" stroke-linejoin="round"/>
<path d="M411.85,281.50 L414.25,286.10 L409.45,286.10 Z" fill="#fff" stroke="#111" stroke-width="1.45" stroke-linejoin="round"/>
<path d="M423.56,281.50 L425.96,286.10 L421.16,286.10 Z" fill="#fff" stroke="#fff" stroke-width="2.9" stroke-linejoin="round"/>
<path d="M423.56,281.50 L425.96,286.10 L421.16,286.10 Z" fill="#fff" stroke="#111" stroke-width="1.45" stroke-linejoin="round"/>
<path d="M435.28,281.50 L437.68,286.10 L432.88,286.10 Z" fill="#fff" stroke="#fff" stroke-width="2.9" stroke-linejoin="round"/>
<path d="M435.28,281.50 L437.68,286.10 L432.88,286.10 Z" fill="#fff" stroke="#111" stroke-width="1.45" stroke-linejoin="round"/>
<polyline points="60.26,625.30 83.70,625.30" fill="none" stroke="#111" stroke-width="1.35"/>
<circle cx="60.26" cy="625.30" r="3.2" fill="#111"/>
<circle cx="71.98" cy="625.30" r="3.2" fill="#111"/>
<path d="M83.70,622.80 L86.10,627.40 L81.30,627.40 Z" fill="#fff" stroke="#fff" stroke-width="2.9" stroke-linejoin="round"/>
<path d="M83.70,622.80 L86.10,627.40 L81.30,627.40 Z" fill="#fff" stroke="#111" stroke-width="1.45" stroke-linejoin="round"/>
<circle cx="118.85" cy="618.00" r="3.2" fill="#111"/>
<circle cx="165.73" cy="618.00" r="3.2" fill="#111"/>
<rect x="161.93" y="618.3" width="7.6" height="1.9" fill="#fff"/>
<path d="M165.73,619.20 L168.13,623.80 L163.33,623.80 Z" fill="#fff" stroke="#111" stroke-width="1.45" stroke-linejoin="round"/>
<polyline points="212.61,618.20 224.32,618.20 236.04,618.20" fill="none" stroke="#111" stroke-width="1.35"/>
<circle cx="212.61" cy="618.20" r="3.2" fill="#111"/>
<circle cx="224.32" cy="618.20" r="3.2" fill="#111"/>
<circle cx="236.04" cy="618.20" r="3.2" fill="#111"/>
<polyline points="259.48,486.50 271.20,486.50 282.92,486.50 294.64,486.50 306.36,486.50" fill="none" stroke="#111" stroke-width="1.35"/>
<circle cx="259.48" cy="486.50" r="3.2" fill="#111"/>
<circle cx="271.20" cy="486.50" r="3.2" fill="#111"/>
<circle cx="294.64" cy="486.50" r="3.2" fill="#111"/>
<circle cx="306.36" cy="486.50" r="3.2" fill="#111"/>
<path d="M282.92,484.00 L285.32,488.60 L280.52,488.60 Z" fill="#fff" stroke="#fff" stroke-width="2.9" stroke-linejoin="round"/>
<path d="M282.92,484.00 L285.32,488.60 L280.52,488.60 Z" fill="#fff" stroke="#111" stroke-width="1.45" stroke-linejoin="round"/>
<polyline points="318.08,625.50 329.80,625.50 341.51,625.50 353.23,625.50 364.95,625.50" fill="none" stroke="#111" stroke-width="1.35"/>
<circle cx="318.08" cy="625.50" r="3.2" fill="#111"/>
<circle cx="329.80" cy="625.50" r="3.2" fill="#111"/>
<circle cx="341.51" cy="625.50" r="3.2" fill="#111"/>
<circle cx="353.23" cy="625.50" r="3.2" fill="#111"/>
<circle cx="364.95" cy="625.50" r="3.2" fill="#111"/>
<polyline points="318.08,486.50 329.80,486.50 341.51,476.00 353.23,476.00 364.95,476.00" fill="none" stroke="#111" stroke-width="1.35"/>
<path d="M318.08,484.00 L320.48,488.60 L315.68,488.60 Z" fill="#fff" stroke="#fff" stroke-width="2.9" stroke-linejoin="round"/>
<path d="M318.08,484.00 L320.48,488.60 L315.68,488.60 Z" fill="#fff" stroke="#111" stroke-width="1.45" stroke-linejoin="round"/>
<path d="M329.80,484.00 L332.20,488.60 L327.40,488.60 Z" fill="#fff" stroke="#fff" stroke-width="2.9" stroke-linejoin="round"/>
<path d="M329.80,484.00 L332.20,488.60 L327.40,488.60 Z" fill="#fff" stroke="#111" stroke-width="1.45" stroke-linejoin="round"/>
<path d="M341.51,473.50 L343.91,478.10 L339.12,478.10 Z" fill="#fff" stroke="#fff" stroke-width="2.9" stroke-linejoin="round"/>
<path d="M341.51,473.50 L343.91,478.10 L339.12,478.10 Z" fill="#fff" stroke="#111" stroke-width="1.45" stroke-linejoin="round"/>
<path d="M353.23,473.50 L355.63,478.10 L350.83,478.10 Z" fill="#fff" stroke="#fff" stroke-width="2.9" stroke-linejoin="round"/>
<path d="M353.23,473.50 L355.63,478.10 L350.83,478.10 Z" fill="#fff" stroke="#111" stroke-width="1.45" stroke-linejoin="round"/>
<path d="M364.95,473.50 L367.35,478.10 L362.55,478.10 Z" fill="#fff" stroke="#fff" stroke-width="2.9" stroke-linejoin="round"/>
<path d="M364.95,473.50 L367.35,478.10 L362.55,478.10 Z" fill="#fff" stroke="#111" stroke-width="1.45" stroke-linejoin="round"/>
<polyline points="388.39,490.70 400.11,490.70 411.83,490.70 423.55,490.70 435.27,490.70" fill="none" stroke="#111" stroke-width="1.35"/>
<circle cx="388.39" cy="490.70" r="3.2" fill="#111"/>
<circle cx="400.11" cy="490.70" r="3.2" fill="#111"/>
<circle cx="423.55" cy="490.70" r="3.2" fill="#111"/>
<circle cx="435.27" cy="490.70" r="3.2" fill="#111"/>
<path d="M411.83,488.20 L414.23,492.80 L409.43,492.80 Z" fill="#fff" stroke="#fff" stroke-width="2.9" stroke-linejoin="round"/>
<path d="M411.83,488.20 L414.23,492.80 L409.43,492.80 Z" fill="#fff" stroke="#111" stroke-width="1.45" stroke-linejoin="round"/>
<polyline points="446.99,490.70 458.70,490.70 470.42,490.70 482.14,483.50 493.86,483.50" fill="none" stroke="#111" stroke-width="1.35"/>
<path d="M446.99,488.20 L449.39,492.80 L444.59,492.80 Z" fill="#fff" stroke="#fff" stroke-width="2.9" stroke-linejoin="round"/>
<path d="M446.99,488.20 L449.39,492.80 L444.59,492.80 Z" fill="#fff" stroke="#111" stroke-width="1.45" stroke-linejoin="round"/>
<path d="M458.70,488.20 L461.10,492.80 L456.31,492.80 Z" fill="#fff" stroke="#fff" stroke-width="2.9" stroke-linejoin="round"/>
<path d="M458.70,488.20 L461.10,492.80 L456.31,492.80 Z" fill="#fff" stroke="#111" stroke-width="1.45" stroke-linejoin="round"/>
<path d="M470.42,488.20 L472.82,492.80 L468.02,492.80 Z" fill="#fff" stroke="#fff" stroke-width="2.9" stroke-linejoin="round"/>
<path d="M470.42,488.20 L472.82,492.80 L468.02,492.80 Z" fill="#fff" stroke="#111" stroke-width="1.45" stroke-linejoin="round"/>
<path d="M482.14,481.00 L484.54,485.60 L479.74,485.60 Z" fill="#fff" stroke="#fff" stroke-width="2.9" stroke-linejoin="round"/>
<path d="M482.14,481.00 L484.54,485.60 L479.74,485.60 Z" fill="#fff" stroke="#111" stroke-width="1.45" stroke-linejoin="round"/>
<path d="M493.86,481.00 L496.26,485.60 L491.46,485.60 Z" fill="#fff" stroke="#fff" stroke-width="2.9" stroke-linejoin="round"/>
<path d="M493.86,481.00 L496.26,485.60 L491.46,485.60 Z" fill="#fff" stroke="#111" stroke-width="1.45" stroke-linejoin="round"/>
<rect x="448.8" y="169.6" width="99.6" height="56.0" fill="#fff" stroke="#111" stroke-width="1.3"/>
<text x="496.9" y="184.1" font-size="11.2" text-anchor="middle" textLength="42.8" lengthAdjust="spacingAndGlyphs" fill="#1a1a1a">Teacher 1</text>
<line x1="454.60" y1="195.40" x2="471.40" y2="195.40" stroke="#111" stroke-width="1.4"/>
<circle cx="463.00" cy="195.40" r="3.2" fill="#111"/>
<line x1="454.60" y1="211.80" x2="471.40" y2="211.80" stroke="#111" stroke-width="1.4"/>
<path d="M463.10,208.55 L466.22,214.53 L459.98,214.53 Z" fill="#fff" stroke="#111" stroke-width="1.45" stroke-linejoin="round"/>
<text x="481.0" y="199.3" font-size="9.8" text-anchor="start" textLength="54.5" lengthAdjust="spacingAndGlyphs" fill="#1a1a1a">w/ Student 1A</text>
<text x="481.0" y="215.10000000000002" font-size="9.8" text-anchor="start" textLength="54.5" lengthAdjust="spacingAndGlyphs" fill="#1a1a1a">w/ Student 1B</text>
<rect x="448.8" y="361.1" width="99.6" height="56.299999999999955" fill="#fff" stroke="#111" stroke-width="1.3"/>
<text x="496.9" y="375.6" font-size="11.2" text-anchor="middle" textLength="42.8" lengthAdjust="spacingAndGlyphs" fill="#1a1a1a">Teacher 2</text>
<line x1="454.60" y1="386.90" x2="471.40" y2="386.90" stroke="#111" stroke-width="1.4"/>
<circle cx="463.00" cy="386.90" r="3.2" fill="#111"/>
<line x1="454.60" y1="403.30" x2="471.40" y2="403.30" stroke="#111" stroke-width="1.4"/>
<path d="M463.10,400.05 L466.22,406.03 L459.98,406.03 Z" fill="#fff" stroke="#111" stroke-width="1.45" stroke-linejoin="round"/>
<text x="481.0" y="390.8" font-size="9.8" text-anchor="start" textLength="54.5" lengthAdjust="spacingAndGlyphs" fill="#1a1a1a">w/ Student 2A</text>
<text x="481.0" y="406.6" font-size="9.8" text-anchor="start" textLength="54.5" lengthAdjust="spacingAndGlyphs" fill="#1a1a1a">w/ Student 2B</text>
<rect x="448.8" y="553.1" width="99.6" height="56.39999999999998" fill="#fff" stroke="#111" stroke-width="1.3"/>
<text x="496.9" y="567.6" font-size="11.2" text-anchor="middle" textLength="42.8" lengthAdjust="spacingAndGlyphs" fill="#1a1a1a">Teacher 3</text>
<line x1="454.60" y1="578.90" x2="471.40" y2="578.90" stroke="#111" stroke-width="1.4"/>
<circle cx="463.00" cy="578.90" r="3.2" fill="#111"/>
<line x1="454.60" y1="595.30" x2="471.40" y2="595.30" stroke="#111" stroke-width="1.4"/>
<path d="M463.10,592.05 L466.22,598.03 L459.98,598.03 Z" fill="#fff" stroke="#111" stroke-width="1.45" stroke-linejoin="round"/>
<text x="481.0" y="582.8" font-size="9.8" text-anchor="start" textLength="54.5" lengthAdjust="spacingAndGlyphs" fill="#1a1a1a">w/ Student 3A</text>
<text x="481.0" y="598.6" font-size="9.8" text-anchor="start" textLength="54.5" lengthAdjust="spacingAndGlyphs" fill="#1a1a1a">w/ Student 3B</text>
</svg>
</body></html>
